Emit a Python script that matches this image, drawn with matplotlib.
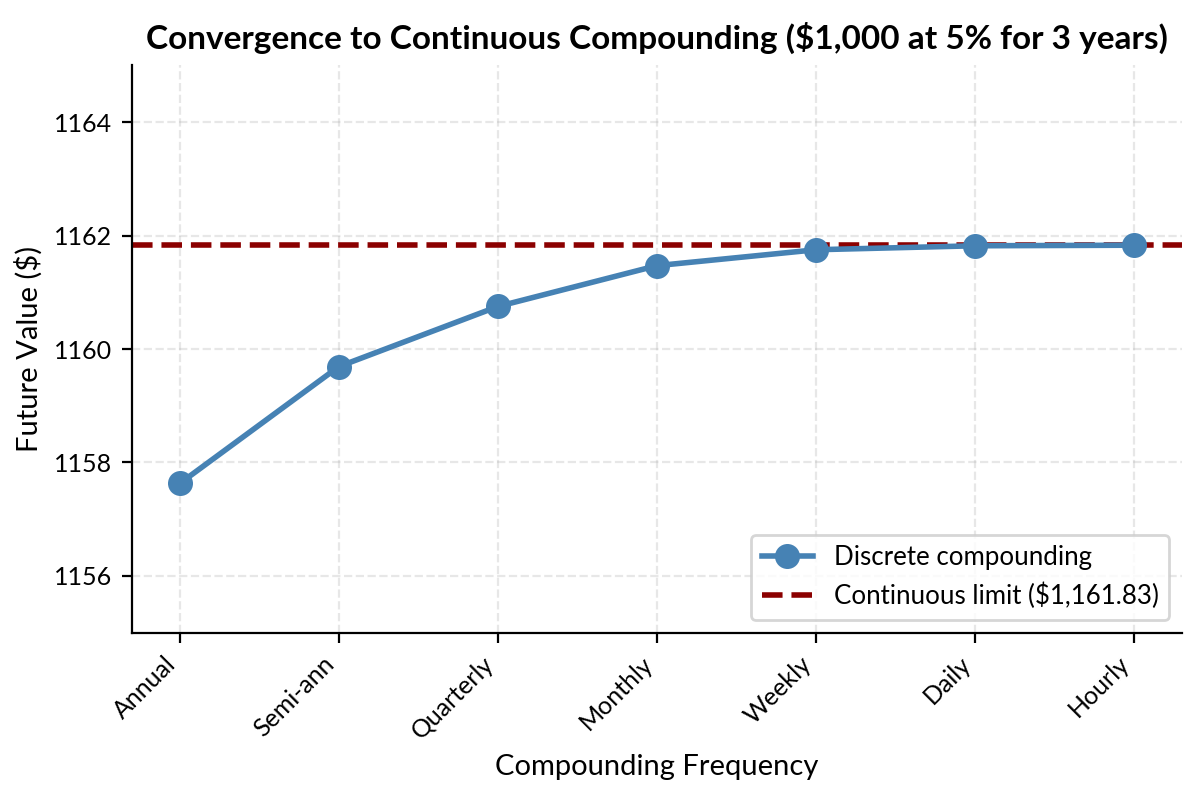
import matplotlib
matplotlib.use("Agg")
import matplotlib.pyplot as plt

plt.rcParams['font.family'] = ['Lato', 'DejaVu Sans']

frequencies = ["Annual", "Semi-ann", "Quarterly", "Monthly", "Weekly", "Daily", "Hourly"]
future_values = [1157.63, 1159.69, 1160.75, 1161.47, 1161.75, 1161.82, 1161.83]
continuous_limit = 1161.83

fig, ax = plt.subplots(figsize=(6, 4.035), dpi=200)
fig.subplots_adjust(left=0.11, right=0.985, top=0.919, bottom=0.216)

x = range(len(frequencies))
ax.plot(x, future_values, '-o', color='steelblue', lw=2, markersize=8,
        label='Discrete compounding', zorder=3)
ax.axhline(continuous_limit, color='darkred', ls='--', lw=2,
           label='Continuous limit ($1,161.83)', zorder=2)

ax.set_xticks(list(x))
ax.set_xticklabels(frequencies, rotation=45, ha='right')
ax.set_ylim(1155, 1165)
ax.set_yticks([1156, 1158, 1160, 1162, 1164])
ax.tick_params(labelsize=9)
ax.set_xlabel("Compounding Frequency", fontsize=10.5)
ax.set_ylabel("Future Value ($)", fontsize=10.5)
ax.set_title("Convergence to Continuous Compounding ($1,000 at 5% for 3 years)",
             fontsize=12, fontweight='bold')
ax.grid(True, ls='--', alpha=0.3)
ax.spines['top'].set_visible(False)
ax.spines['right'].set_visible(False)
ax.legend(loc='lower right', fontsize=9.3)

fig.savefig("out.png", dpi=200)
